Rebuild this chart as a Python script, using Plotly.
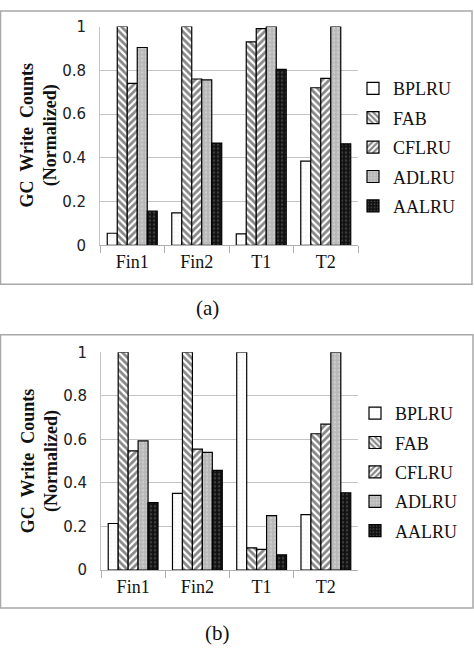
import plotly.graph_objects as go

categories = ["Fin1", "Fin2", "T1", "T2"]
series = ["BPLRU", "FAB", "CFLRU", "ADLRU", "AALRU"]

# panel (a)
BPLRU_a = [0.055, 0.148, 0.052, 0.385]
FAB_a = [1.0, 1.0, 0.93, 0.72]
CFLRU_a = [0.74, 0.76, 0.99, 0.763]
ADLRU_a = [0.904, 0.756, 1.0, 1.0]
AALRU_a = [0.156, 0.467, 0.804, 0.464]

# panel (b)
BPLRU_b = [0.214, 0.352, 1.0, 0.255]
FAB_b = [1.0, 1.0, 0.102, 0.626]
CFLRU_b = [0.547, 0.555, 0.095, 0.67]
ADLRU_b = [0.593, 0.54, 0.25, 1.0]
AALRU_b = [0.31, 0.458, 0.07, 0.355]

ytick_vals = [0, 0.2, 0.4, 0.6, 0.8, 1]
ytick_text = ["0", "0.2", "0.4", "0.6", "0.8", "1"]

vals_a = [BPLRU_a, FAB_a, CFLRU_a, ADLRU_a, AALRU_a]
vals_b = [BPLRU_b, FAB_b, CFLRU_b, ADLRU_b, AALRU_b]

styles = {
    "BPLRU": dict(shape=".", bgcolor="#ffffff", fgcolor="#dcdcdc", size=4, solidity=0.15),
    "FAB": dict(shape="\\", bgcolor="#ffffff", fgcolor="#111111", size=5, solidity=0.55),
    "CFLRU": dict(shape="/", bgcolor="#ffffff", fgcolor="#111111", size=5, solidity=0.55),
    "ADLRU": dict(shape=".", bgcolor="#b8b8b8", fgcolor="#e2e2e2", size=4, solidity=0.3),
    "AALRU": dict(shape=".", bgcolor="#111111", fgcolor="#6a6a6a", size=4, solidity=0.3),
}

W, H = 474, 653
fig = go.Figure()

serif = "Liberation Serif, Times New Roman, serif"
sans = "DejaVu Sans, sans-serif"

for panel, vals, xa, ya, lg in [("a", vals_a, "x", "y", "legend"), ("b", vals_b, "x2", "y2", "legend2")]:
    for name, v in zip(series, vals):
        st = styles[name]
        fig.add_trace(go.Bar(
            x=categories, y=v, name=name, xaxis=xa, yaxis=ya, legend=lg,
            legendgroup=panel + name,
            marker=dict(
                color=st["bgcolor"],
                line=dict(color="#000000", width=1.2),
                pattern=dict(shape=st["shape"], bgcolor=st["bgcolor"], fgcolor=st["fgcolor"],
                             size=st["size"], solidity=st["solidity"], fillmode="overlay"),
            ),
        ))

def px_x(p):
    return p / W

def px_y(p):
    return 1 - p / H

axis_common_y = dict(
    range=[0, 1], tickvals=ytick_vals, ticktext=ytick_text,
    showgrid=True, gridcolor="#c4c4c4", gridwidth=1,
    showline=True, linecolor="#c4c4c4", linewidth=1,
    ticks="", ticklabelstandoff=10,
    tickfont=dict(family=sans, size=15, color="#222222"),
    zeroline=False, fixedrange=True,
)
axis_common_x = dict(
    showline=True, linecolor="#b0b0b0", linewidth=1,
    ticks="outside", tickson="boundaries", ticklen=7, tickcolor="#b0b0b0",
    tickfont=dict(family=serif, size=18, color="#111111"),
    showgrid=False,
)

fig.update_layout(
    width=W, height=H,
    margin=dict(l=0, r=0, t=0, b=0),
    paper_bgcolor="white", plot_bgcolor="white",
    barmode="group", bargap=0.225, bargroupgap=0,
    xaxis=dict(domain=[px_x(100), px_x(358)], anchor="y", **axis_common_x),
    yaxis=dict(domain=[px_y(243), px_y(18)], anchor="x", **axis_common_y),
    xaxis2=dict(domain=[px_x(101), px_x(358)], anchor="y2", **axis_common_x),
    yaxis2=dict(domain=[px_y(577), px_y(353)], anchor="x2", **axis_common_y),
    legend=dict(x=px_x(353), y=px_y(142), xanchor="left", yanchor="middle",
                font=dict(family=serif, size=18, color="#111111"),
                bgcolor="rgba(0,0,0,0)", tracegroupgap=3),
    legend2=dict(x=px_x(355), y=px_y(476), xanchor="left", yanchor="middle",
                 font=dict(family=serif, size=18, color="#111111"),
                 bgcolor="rgba(0,0,0,0)", tracegroupgap=3),
    showlegend=True,
    shapes=[
        dict(type="rect", xref="paper", yref="paper", x0=px_x(0.5), x1=px_x(472), y0=px_y(283), y1=px_y(2),
             line=dict(color="#a8a8a8", width=1.5), layer="below"),
        dict(type="rect", xref="paper", yref="paper", x0=px_x(0.5), x1=px_x(473), y0=px_y(616), y1=px_y(335),
             line=dict(color="#a8a8a8", width=1.5), layer="below"),
    ],
    annotations=[
        dict(text="<b>GC  Write  Counts<br>(Normalized)</b>", textangle=-90, xref="paper", yref="paper",
             x=px_x(39), y=px_y(130), xanchor="center", yanchor="middle", showarrow=False,
             font=dict(family=serif, size=18, color="#111111")),
        dict(text="<b>GC  Write  Counts<br>(Normalized)</b>", textangle=-90, xref="paper", yref="paper",
             x=px_x(40), y=px_y(465), xanchor="center", yanchor="middle", showarrow=False,
             font=dict(family=serif, size=18, color="#111111")),
        dict(text="(a)", xref="paper", yref="paper", x=px_x(207), y=px_y(307), xanchor="center",
             yanchor="middle", showarrow=False, font=dict(family=serif, size=21, color="#111111")),
        dict(text="(b)", xref="paper", yref="paper", x=px_x(217), y=px_y(642), xanchor="center",
             yanchor="middle", showarrow=False, font=dict(family=serif, size=21, color="#111111")),
    ],
)

fig.write_html("out.html")
